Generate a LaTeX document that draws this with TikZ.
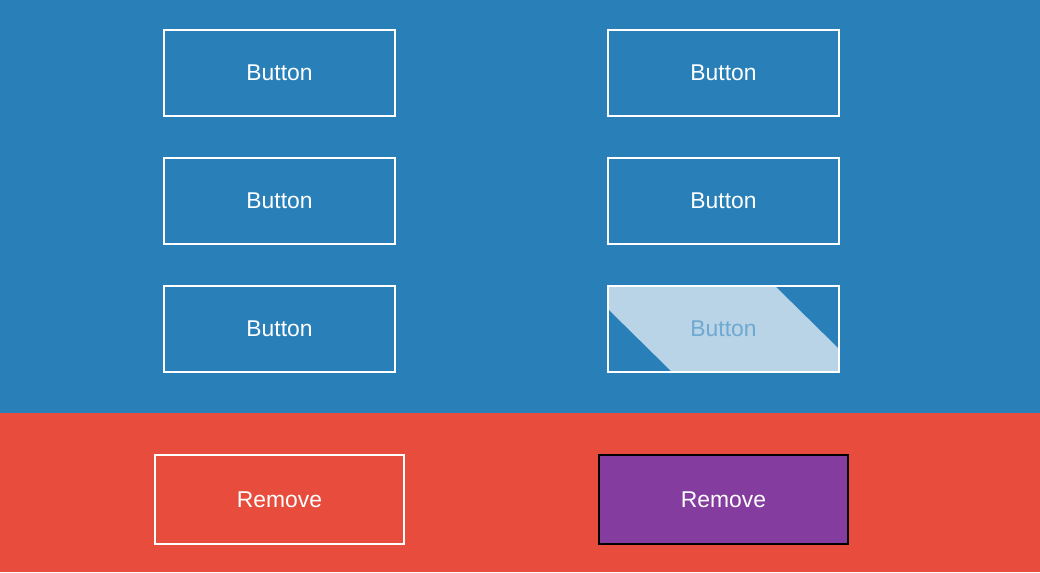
\documentclass[tikz,border=0pt]{standalone}
\usepackage{fontspec}
\setmainfont{Liberation Sans}
\definecolor{skyblue}{HTML}{2980B9}
\definecolor{alarmred}{HTML}{E74C3C}
\definecolor{grape}{HTML}{843C9F}
\definecolor{paleblue}{HTML}{B8D4E6}
\definecolor{fadetext}{HTML}{6FA8D0}
\tikzset{
  btn/.style={draw=white, line width=1.6pt, minimum width=4.62cm, minimum height=1.72cm, text=white, font=\fontsize{13}{15}\selectfont},
  rmbtn/.style={btn, minimum width=4.98cm, minimum height=1.78cm}
}
\begin{document}
\begin{tikzpicture}[x=0.02cm, y=-0.02cm]

\fill[skyblue] (0,0) rectangle (1040,413);
\fill[alarmred] (0,413) rectangle (1040,572);

% left column
\foreach \y/\n in {73/a, 201/b, 329/c} \node[btn] (left\n) at (279.5,\y) {Button};
% right column
\foreach \y/\n in {73/a, 201/b} \node[btn] (right\n) at (723.5,\y) {Button};

% hovered button
\fill[paleblue] (608,287) -- (776,287) -- (839,349) -- (839,371) -- (671,371) -- (608,309) -- cycle;
\node[btn, text=fadetext] (rightc) at (723.5,329) {Button};

\node[rmbtn] (removeleft) at (279.5,499.5) {Remove};
\node[rmbtn, draw=black, fill=grape] (removeright) at (723.5,499.5) {Remove};

\end{tikzpicture}
\end{document}
